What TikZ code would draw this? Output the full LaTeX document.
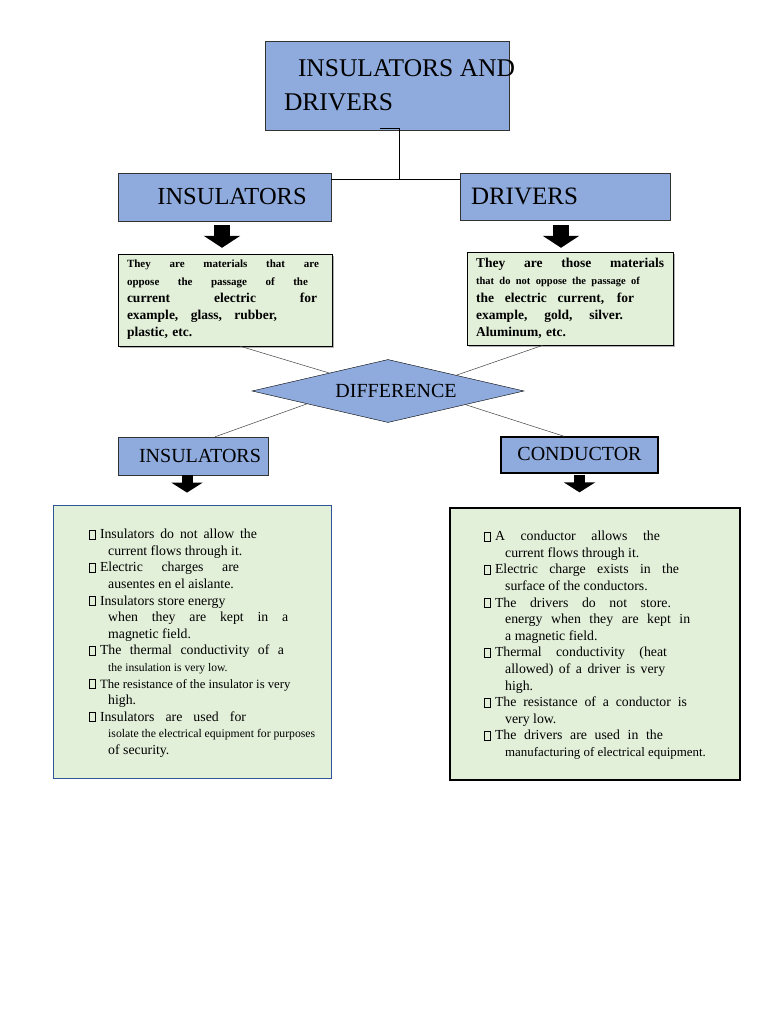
\documentclass[tikz,border=0pt]{standalone}
\usepackage{fontspec}
\setmainfont{Liberation Serif}
\usepackage{tikz}
\usetikzlibrary{shapes.geometric, arrows.meta, positioning, shadows}

\definecolor{boxblue}{RGB}{143,170,220}
\definecolor{boxgreen}{RGB}{226,239,217}
\definecolor{edgeblue}{RGB}{47,85,151}

% small empty square used as list bullet
\newcommand{\sqbul}{{\setlength{\fboxsep}{0pt}\setlength{\fboxrule}{0.4pt}\fbox{\rule{0pt}{8.5pt}\hspace{5.5pt}}}\hspace{4.5pt}}
% justified line of a given width
\newcommand{\spread}[2]{\makebox[#1][s]{\spaceskip=0pt\xspaceskip=0pt\relax #2}}

\begin{document}
\begin{tikzpicture}[x=1pt, y=1pt,
        bluebox/.style={rectangle, draw=black!80, fill=boxblue, inner sep=0pt, drop shadow={shadow xshift=1.2pt, shadow yshift=-1.2pt, fill=black!60}},
        greenbox/.style={rectangle, draw=black, fill=boxgreen, inner sep=0pt, align=left, drop shadow={shadow xshift=1.5pt, shadow yshift=-1.5pt, fill=black!60}},
        listtext/.style={anchor=north west, inner sep=0pt, align=left, font=\fontsize{13.8}{16.6}\selectfont},
        thinline/.style={draw=black!75, line width=0.5pt},
        link/.style={draw=black, line width=0.8pt},
        bigarr/.style={line width=16pt, -{Triangle[width=36pt, length=12pt]}},
        smallarr/.style={line width=11pt, -{Triangle[width=31pt, length=10pt]}},
    ]
        \useasboundingbox (0,0) rectangle (768,-1024);

        % Top title
        \node[bluebox, minimum width=244pt, minimum height=89pt, text width=206pt, inner xsep=19pt, align=left, font=\fontsize{25.5}{34}\selectfont] (title) at (387,-85.5) {\mbox{\spaceskip=0pt\relax\hspace*{14pt}INSULATORS AND}\\DRIVERS};

        % Row 2
        \node[bluebox, minimum width=213pt, minimum height=48pt, font=\fontsize{24.5}{30}\selectfont] (ins) at (224.5,-197) {\hspace*{15pt}INSULATORS};
        \node[bluebox, minimum width=210pt, minimum height=47pt, text width=188pt, inner xsep=11pt, align=left, font=\fontsize{25}{30}\selectfont] (drv) at (565,-196.5) {DRIVERS};

        \coordinate (stub) at (380,-128);
        \coordinate (joint) at (399,-179);
        \draw[link] (stub) -| (joint);
        \draw[link] (ins.east |- joint) -- (drv.west |- joint);

        % Row 3
        \node[greenbox, minimum width=214pt, minimum height=92pt, text width=196pt, inner xsep=9pt, font=\bfseries\fontsize{13.5}{17.2}\selectfont] (insTxt) at (225,-300) {%
            {\fontsize{11}{17.2}\selectfont\spread{192pt}{They are materials that are}}\\
            {\fontsize{11}{17.2}\selectfont\spread{181pt}{oppose the passage of the}}\\
            \spread{190pt}{current electric for}\\
            \spread{150pt}{example, glass, rubber,}\\
            plastic, etc.};
        \node[greenbox, minimum width=206pt, minimum height=93pt, text width=188pt, inner xsep=9pt, font=\bfseries\fontsize{13.5}{17.2}\selectfont] (drvTxt) at (570,-298.5) {%
            \spread{188pt}{They are those materials}\\
            {\fontsize{10.5}{17.2}\selectfont\spread{164pt}{that do not oppose the passage of}}\\
            \spread{158pt}{the electric current, for}\\
            \spread{147pt}{example, gold, silver.}\\
            Aluminum, etc.};

        \draw[bigarr, shorten <=4pt, shorten >=6pt] ([xshift=-2.5pt]ins.south) -- ([xshift=-2.5pt]ins.south |- insTxt.north);
        \draw[bigarr, shorten <=5pt, shorten >=4pt] ([xshift=-4pt]drv.south) -- ([xshift=-4pt]drv.south |- drvTxt.north);

        % Difference
        \node[diamond, draw=black, fill=boxblue, minimum width=272pt, minimum height=63pt, aspect=4.3, inner sep=0pt, font=\fontsize{20}{24}\selectfont] (diff) at (388,-391) {\hspace*{16pt}DIFFERENCE};

        % Row 5
        \node[bluebox, minimum width=150pt, minimum height=38pt, font=\fontsize{20}{24}\selectfont] (ins2) at (193,-456) {\hspace*{14pt}INSULATORS};
        \node[bluebox, draw=black, line width=1.2pt, minimum width=157pt, minimum height=36pt, font=\fontsize{20}{24}\selectfont] (cond) at (579.5,-455) {\raisebox{2pt}{CONDUCTOR}};

        \draw[thinline] (insTxt.-72) -- (diff.163);
        \draw[thinline] (drvTxt.-120) -- (diff.13);
        \draw[thinline] (diff.189) -- (ins2.41);
        \draw[thinline] (diff.350) -- (cond.129);

        % Lists
        \node[rectangle, draw=edgeblue, line width=0.8pt, fill=boxgreen, minimum width=278pt, minimum height=273pt] (insBox) at (192,-641.5) {};
        \node[rectangle, draw=black, line width=1.3pt, fill=boxgreen, minimum width=290pt, minimum height=272pt] (condBox) at (595,-644) {};

        \draw[smallarr, shorten >=12pt] ([xshift=-6pt]ins2.south) -- ([xshift=-6pt]ins2.south |- insBox.north);
        \draw[smallarr, shorten <=1pt, shorten >=15pt] (cond.south) -- (cond.south |- condBox.north);

        \node[listtext] (insList) at (89,-529) {%
            \sqbul\spread{157pt}{Insulators do not allow the}\\
            \hspace*{19pt}current flows through it.\\
            \sqbul\spread{139pt}{Electric charges are}\\
            \hspace*{19pt}ausentes en el aislante.\\
            \sqbul Insulators store energy\\
            \hspace*{19pt}\spread{180pt}{when they are kept in a}\\
            \hspace*{19pt}magnetic field.\\
            \sqbul\spread{184pt}{The thermal conductivity of a}\\
            \hspace*{19pt}{\fontsize{11.6}{16.6}\selectfont the insulation is very low.}\\
            \sqbul{\fontsize{12.7}{16.6}\selectfont The resistance of the insulator is very}\\
            \hspace*{19pt}high.\\
            \sqbul\spread{146pt}{Insulators are used for}\\
            \hspace*{19pt}{\fontsize{11.7}{16.6}\selectfont isolate the electrical equipment for purposes}\\
            \hspace*{19pt}of security.};
        \node[listtext] (condList) at (484,-531) {%
            \sqbul\spread{165pt}{A conductor allows the}\\
            \hspace*{21pt}current flows through it.\\
            \sqbul\spread{184pt}{Electric charge exists in the}\\
            \hspace*{21pt}surface of the conductors.\\
            \sqbul\spread{176pt}{The drivers do not store.}\\
            \hspace*{21pt}\spread{185pt}{energy when they are kept in}\\
            \hspace*{21pt}a magnetic field.\\
            \sqbul\spread{172pt}{Thermal conductivity (heat}\\
            \hspace*{21pt}\spread{160pt}{allowed) of a driver is very}\\
            \hspace*{21pt}high.\\
            \sqbul\spread{192pt}{The resistance of a conductor is}\\
            \hspace*{21pt}very low.\\
            \sqbul\spread{168pt}{The drivers are used in the}\\
            \hspace*{21pt}{\fontsize{12.9}{16.6}\selectfont manufacturing of electrical equipment.}};
    \end{tikzpicture}
\end{document}
